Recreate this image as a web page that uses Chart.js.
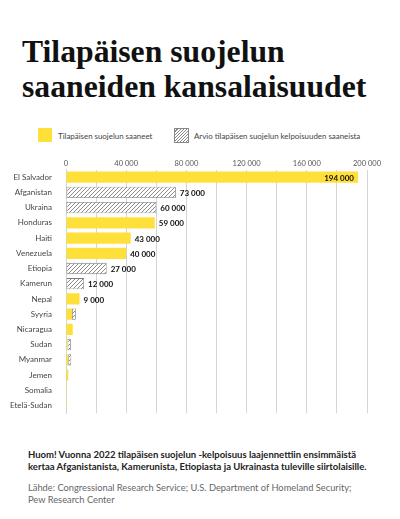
<!DOCTYPE html>
<html lang="fi">
<head>
<meta charset="UTF-8">
<title>Tilapäisen suojelun saaneiden kansalaisuudet</title>
<script src="https://cdn.jsdelivr.net/npm/chart.js"></script>
<style>
  html, body { margin: 0; padding: 0; background: #fff; }
  body { width: 400px; height: 519px; position: relative; overflow: hidden; font-family: Lato, "Open Sans", sans-serif; }
  h1 { position: absolute; left: 22px; top: 34px; margin: 0; font-family: "Liberation Serif", "DejaVu Serif", serif; font-weight: bold; font-size: 31.7px; line-height: 35px; color: #111; }
  .legend { position: absolute; top: 128px; left: 38px; font-size: 7.9px; color: #444; }
  .legend span { position: absolute; white-space: nowrap; top: 2.5px; }
  .sw { position: absolute; width: 14px; height: 14px; top: 0; }
  .sw.y { left: 0; background: #ffe03a; }
  .sw.h { left: 136px; width: 13px; height: 13px; border: 1px solid #888; background: repeating-linear-gradient(135deg, #fff 0 1.4px, #888 1.4px 2.2px); }
  #wrap { position: absolute; left: 0; top: 150px; width: 400px; height: 274px; }
  .note { position: absolute; left: 28px; top: 449px; font-size: 9.5px; line-height: 12px; font-weight: bold; color: #222; }
  .src { position: absolute; left: 28px; top: 482px; font-size: 9.3px; line-height: 12px; color: #666; }
</style>
</head>
<body>
  <h1>Tilapäisen suojelun<br>saaneiden kansalaisuudet</h1>

  <div class="legend">
    <div class="sw y"></div><span style="left:20px">Tilapäisen suojelun saaneet</span>
    <div class="sw h"></div><span style="left:156px">Arvio tilapäisen suojelun kelpoisuuden saaneista</span>
  </div>

  <div id="wrap"><canvas id="chart" width="400" height="274"></canvas></div>

  <div class="note">Huom! Vuonna 2022 tilapäisen suojelun -kelpoisuus laajennettiin ensimmäistä<br>kertaa Afganistanista, Kamerunista, Etiopiasta ja Ukrainasta tuleville siirtolaisille.</div>
  <div class="src">Lähde: Congressional Research Service; U.S. Department of Homeland Security;<br>Pew Research Center</div>

  <script>
    const countries = ['El Salvador', 'Afganistan', 'Ukraina', 'Honduras', 'Haiti', 'Venezuela', 'Etiopia', 'Kamerun', 'Nepal', 'Syyria', 'Nicaragua', 'Sudan', 'Myanmar', 'Jemen', 'Somalia', 'Etelä-Sudan'];
    const granted = [194000, 0, 0, 59000, 43000, 40000, 0, 0, 9000, 4000, 4500, 1000, 1500, 1500, 600, 100];
    const estimated = [0, 73000, 60000, 0, 0, 0, 27000, 12000, 0, 2500, 0, 2200, 2000, 0, 0, 0];
    const valueLabels = ['194 000', '73 000', '60 000', '59 000', '43 000', '40 000', '27 000', '12 000', '9 000', null, null, null, null, null, null, null];
    const tickLabels = ['0', '40 000', '80 000', '120 000', '160 000', '200 000'];

    // diagonal hatch for the estimate bars
    function hatch() {
      const c = document.createElement('canvas');
      c.width = 4; c.height = 4;
      const g = c.getContext('2d');
      g.fillStyle = '#fff';
      g.fillRect(0, 0, 4, 4);
      g.strokeStyle = '#7a7a7a';
      g.lineWidth = 0.9;
      g.beginPath();
      g.moveTo(0, 4); g.lineTo(4, 0);
      g.moveTo(-1, 1); g.lineTo(1, -1);
      g.moveTo(3, 5); g.lineTo(5, 3);
      g.stroke();
      return g.createPattern(c, 'repeat');
    }

    const valueLabelPlugin = {
      id: 'valueLabels',
      afterDatasetsDraw(chart) {
        const ctx = chart.ctx;
        const x = chart.scales.x;
        const y = chart.scales.y;
        ctx.save();
        ctx.font = 'bold 8px Lato, sans-serif';
        ctx.fillStyle = '#111';
        ctx.textBaseline = 'middle';
        valueLabels.forEach((lab, i) => {
          if (!lab) return;
          const total = granted[i] + estimated[i];
          const px = x.getPixelForValue(total);
          const py = y.getPixelForValue(i) + 1;
          if (total > 150000) {
            ctx.textAlign = 'right';
            ctx.fillText(lab, px - 4, py);
          } else {
            ctx.textAlign = 'left';
            ctx.fillText(lab, px + 4, py);
          }
        });
        ctx.restore();
      }
    };

    new Chart(document.getElementById('chart'), {
      type: 'bar',
      data: {
        labels: countries,
        datasets: [
          {
            label: 'Tilapäisen suojelun saaneet',
            data: granted,
            backgroundColor: '#ffe03a',
            borderWidth: 0,
            categoryPercentage: 0.74,
            barPercentage: 1
          },
          {
            label: 'Arvio tilapäisen suojelun kelpoisuuden saaneista',
            data: estimated,
            backgroundColor: hatch(),
            borderColor: '#7a7a7a',
            borderWidth: 0.8,
            borderSkipped: false,
            categoryPercentage: 0.74,
            barPercentage: 1
          }
        ]
      },
      options: {
        indexAxis: 'y',
        responsive: false,
        animation: false,
        layout: { padding: { left: 0, right: 33, top: 0, bottom: 3 } },
        plugins: { legend: { display: false }, tooltip: { enabled: false } },
        scales: {
          x: {
            position: 'top',
            stacked: true,
            min: 0,
            max: 200000,
            afterFit(s) { s.height = 19.5; },
            grid: { color: '#d4d4d4', lineWidth: 1, drawTicks: false },
            border: { display: false },
            ticks: {
              stepSize: 20000,
              padding: 1,
              color: '#555',
              font: { family: 'Lato, sans-serif', size: 7.5 },
              maxRotation: 0,
              autoSkip: false,
              callback: (v) => (v % 40000 === 0 ? tickLabels[v / 40000] : '')
            }
          },
          y: {
            stacked: true,
            afterFit(s) { s.width = 66; },
            grid: { display: false },
            border: { color: '#d4d4d4' },
            ticks: {
              padding: 6,
              color: '#444',
              font: { family: 'Lato, sans-serif', size: 8 },
              autoSkip: false
            }
          }
        }
      },
      plugins: [valueLabelPlugin]
    });
  </script>
</body>
</html>
